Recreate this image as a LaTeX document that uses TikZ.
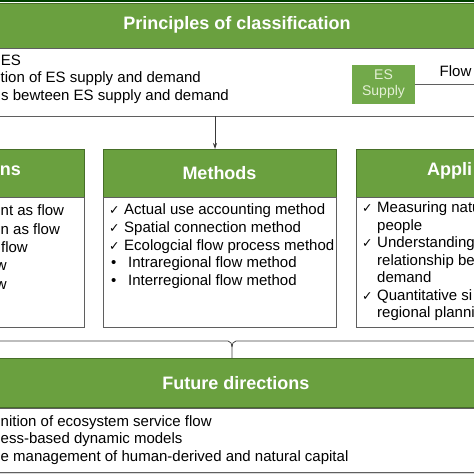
\documentclass[tikz,border=0pt]{standalone}
\usepackage{fontspec}
\setmainfont{Liberation Sans}
\newfontfamily\symfont{DejaVu Sans}
\usetikzlibrary{arrows.meta}
\definecolor{hdrgreen}{RGB}{106,160,63}
\definecolor{hdrdark}{RGB}{70,110,40}
\definecolor{boxgray}{RGB}{95,95,95}
\definecolor{supgreen}{RGB}{114,169,74}
\definecolor{suptext}{RGB}{228,240,214}
\newcommand{\tick}{{\symfont\fontsize{12.5}{13}\selectfont ✓}}
\begin{document}
\begin{tikzpicture}[x=1pt, y=-1pt,
    header/.style={fill=hdrgreen, draw=hdrdark, line width=0.8pt, anchor=north west, inner sep=0pt},
    panel/.style={fill=white, draw=boxgray, line width=0.8pt, anchor=north west, inner sep=0pt},
    htext/.style={text=white, font=\bfseries\fontsize{18}{20}\selectfont, inner sep=0pt},
    btext/.style={font=\fontsize{15}{17}\selectfont, inner sep=0pt}]
    \useasboundingbox (0,0) rectangle (474,474);
    \clip (0,0) rectangle (474,474);
    % principles of classification
    \draw[green!25!black, line width=2.5pt] (-10,1) -- (484,1);
    \node[header, minimum width=494pt, minimum height=45.5pt] (princ) at (-10,2.5) {};
    \node[htext] (princtxt) at (237,25) {Principles of classification};
    \node[panel, minimum width=494pt, minimum height=68pt] (princbody) at (-10,48) {};
    \node[btext, anchor=mid east] (p1) at (21,63) {ES};
    \node[btext, anchor=mid west] (p2) at (0.5,80) {tion of ES supply and demand};
    \node[btext, anchor=mid west] (p3) at (1,98) {s bewteen ES supply and demand};
    \node[fill=supgreen, minimum width=63pt, minimum height=39pt, inner sep=0pt, align=center,
          text=suptext, font=\fontsize{14}{16}\selectfont] (supply) at (383.5,84.5) {ES\\Supply};
    \node[btext] (flow) at (455.5,71) {Flow};
    \coordinate (flowend) at (484,84.5);
    \draw[boxgray, line width=0.8pt] (supply.east) -- (flowend);
    % three columns
    \node[header, minimum width=94pt, minimum height=48pt] (defhd) at (-10,149) {};
    \node[panel, minimum width=94pt, minimum height=130pt] (defbody) at (-10,197) {};
    \node[header, minimum width=233pt, minimum height=48pt] (methhd) at (103,149) {};
    \node[panel, minimum width=233pt, minimum height=130pt] (methbody) at (103,197) {};
    \node[header, minimum width=128pt, minimum height=48pt] (apphd) at (356,149) {};
    \node[panel, minimum width=128pt, minimum height=130pt] (appbody) at (356,197) {};
    \node[htext, anchor=mid east] (deftxt) at (21,173) {ns};
    \node[htext] (methtxt) at (219.5,173) {Methods};
    \node[htext, anchor=mid west] (apptxt) at (427,173) {Appli};
    \coordinate (arrtop) at (215,116);
    \coordinate (arrbot) at (215,149);
    \draw[-{Stealth[length=6pt, width=4pt]}, boxgray!60!black, line width=0.8pt] (arrtop) -- (arrbot);
    % first column
    \node[btext, anchor=mid west] (d1) at (0.5,213) {nt as flow};
    \node[btext, anchor=mid west] (d2) at (0.5,232) {n as flow};
    \node[btext, anchor=mid east] (d3) at (28,250) {flow};
    \node[btext, anchor=mid east] (d4) at (7,268) {w};
    \node[btext, anchor=mid east] (d5) at (7,287) {w};
    % second column
    \node[anchor=mid west, inner sep=0pt] (mc1) at (109,212) {\tick};
    \node[btext, anchor=mid west] (m1) at (124,212) {Actual use accounting method};
    \node[anchor=mid west, inner sep=0pt] (mc2) at (109,230) {\tick};
    \node[btext, anchor=mid west] (m2) at (124,230) {Spatial connection method};
    \node[anchor=mid west, inner sep=0pt] (mc3) at (109,248) {\tick};
    \node[btext, anchor=mid west] (m3) at (124,248) {Ecologcial flow process method};
    \node[btext, anchor=mid west] (mb4) at (111,265) {•};
    \node[btext, anchor=mid west] (m4) at (128,265) {Intraregional flow method};
    \node[btext, anchor=mid west] (mb5) at (111,283) {•};
    \node[btext, anchor=mid west] (m5) at (128,283) {Interregional flow method};
    % third column
    \node[anchor=mid west, inner sep=0pt] (ac1) at (362,210) {\tick};
    \node[btext, anchor=mid west] (a1) at (377,210) {Measuring natu};
    \node[btext, anchor=mid west] (a2) at (377,228) {people};
    \node[anchor=mid west, inner sep=0pt] (ac3) at (362,245) {\tick};
    \node[btext, anchor=mid west] (a3) at (377,245) {Understanding};
    \node[btext, anchor=mid west] (a4) at (377,263) {relationship be};
    \node[btext, anchor=mid west] (a5) at (377,280) {demand};
    \node[anchor=mid west, inner sep=0pt] (ac6) at (362,298) {\tick};
    \node[btext, anchor=mid west] (a6) at (377,298) {Quantitative si};
    \node[btext, anchor=mid west] (a7) at (377,315) {regional planni};
    % bracket and future directions
    \node[header, minimum width=494pt, minimum height=49pt] (future) at (-10,358) {};
    \node[htext] (futtxt) at (236,383) {Future directions};
    \node[panel, minimum width=494pt, minimum height=64pt] (futbody) at (-10,408) {};
    \coordinate (brl) at (-10,341);
    \coordinate (brr) at (484,341);
    \coordinate (brj) at (232,347);
    \coordinate (brm) at (future.north -| brj);
    \draw[boxgray!70!black, line width=0.8pt] (brl) -- (228,341) to[out=0, in=90] (brj) -- (brm);
    \draw[boxgray!70!black, line width=0.8pt] (brr) -- (236,341) to[out=180, in=90] (brj);
    \node[btext, anchor=mid west] (f1) at (0.5,424) {nition of ecosystem service flow};
    \node[btext, anchor=mid west] (f2) at (0.5,441) {ess-based dynamic models};
    \node[btext, anchor=mid west] (f3) at (0.5,459) {e management of human-derived and natural capital};
    \fill[black!15] (0,473) rectangle (474,474);
\end{tikzpicture}
\end{document}
